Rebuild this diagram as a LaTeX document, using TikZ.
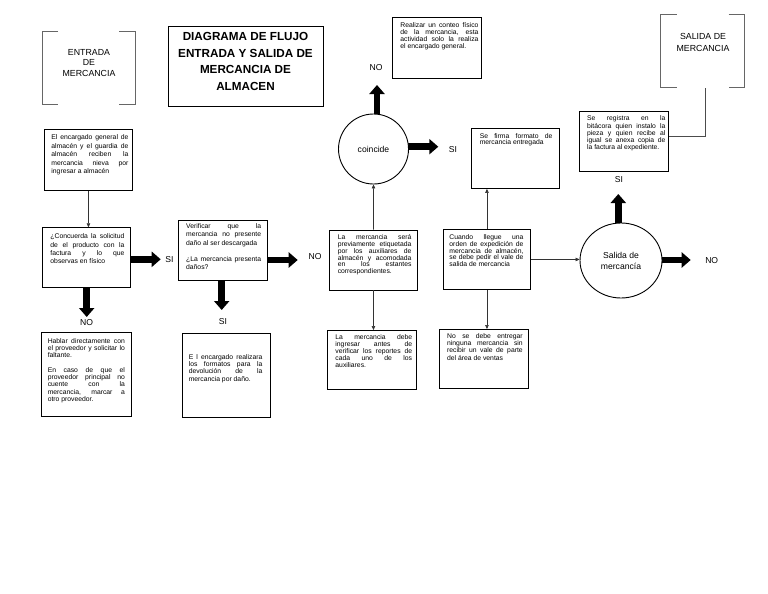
\documentclass[tikz,border=0pt]{standalone}
\usepackage{fontspec}
\setmainfont{Liberation Sans}
\usetikzlibrary{arrows.meta,shapes.geometric,backgrounds}

% #1 width, #2 height, #3 top pad, #4 left pad, #5 right pad, #6 leading, #7 text
\newcommand{\bt}[7]{\parbox[c][#2][t]{#1}{\fontsize{6.8}{#6}\selectfont\setlength{\leftskip}{#4}\setlength{\rightskip}{#5}\setlength{\parindent}{0pt}\tolerance=10000 \hyphenpenalty=10000 \exhyphenpenalty=10000 \vspace*{#3}#7\par}}

\begin{document}
\begin{tikzpicture}[x=1pt,y=-1pt,
  box/.style={draw, line width=0.9pt, inner sep=0pt, anchor=north west},
  fat/.style={line width=6.5pt, -{Triangle[length=9pt,width=15pt]}},
  conn/.style={line width=0.6pt, draw=black!80, -{Triangle[length=4pt,width=3.5pt]}},
  plain/.style={line width=0.9pt, draw=black!70},
  brk/.style={line width=1pt, draw=black!60},
  frame/.style={inner sep=0pt, anchor=north west},
  lab/.style={font=\fontsize{8.6}{10}\selectfont, inner sep=0pt},
  circ/.style={draw, line width=0.9pt, fill=white, inner sep=0pt, font=\fontsize{8.6}{11}\selectfont, align=center}]
\useasboundingbox (0,0) rectangle (768,594);

% --- headers ---
\node[frame, minimum width=93pt, minimum height=72.5pt] (eb) at (42,31.5) {};
\draw[brk] ([xshift=16pt]eb.north west) -- (eb.north west) -- (eb.south west) -- ([xshift=16pt]eb.south west);
\draw[brk] ([xshift=-16pt]eb.north east) -- (eb.north east) -- (eb.south east) -- ([xshift=-16pt]eb.south east);
\node[font=\fontsize{8.8}{10.5}\selectfont, align=center] (et) at (89,62.8) {ENTRADA\\DE\\MERCANCIA};

\node[frame, draw, line width=1.2pt, minimum width=155pt, minimum height=80pt] (tb) at (168,25.7) {};
\node[font=\bfseries\fontsize{11.7}{16.5}\selectfont, align=center] (tt) at (245.5,61.3) {DIAGRAMA DE FLUJO\\ENTRADA Y SALIDA DE\\MERCANCIA DE\\ALMACEN};

\node[frame, minimum width=83.6pt, minimum height=73pt] (sb) at (660.7,14.3) {};
\draw[brk] ([xshift=16pt]sb.north west) -- (sb.north west) -- (sb.south west) -- ([xshift=16pt]sb.south west);
\draw[brk] ([xshift=-16pt]sb.north east) -- (sb.north east) -- (sb.south east) -- ([xshift=-16pt]sb.south east);
\node[font=\fontsize{8.8}{11.6}\selectfont, align=center] (st) at (703,42.5) {SALIDA DE\\MERCANCIA};

% --- boxes ---
\node[box] (b1) at (44,129) {\bt{88pt}{61pt}{5.5pt}{7pt}{4pt}{8.4pt}{El encargado general de\linebreak almacén y el guardia de\linebreak almacén reciben la\linebreak mercancia nieva por\linebreak ingresar a almacén}};

\node[box] (b2) at (42,227.3) {\bt{88pt}{60pt}{6pt}{8pt}{6pt}{8.4pt}{¿Concuerda la solicitud\linebreak de el producto con la\linebreak factura y lo que\linebreak observas en físico}};

\node[box] (b3) at (41,332) {\bt{89.5pt}{84pt}{5.8pt}{6.3pt}{6pt}{7.3pt}{Hablar directamente con\linebreak el proveedor y solicitar lo\linebreak faltante.\par\vspace{7.3pt}En caso de que el\linebreak proveedor principal no\linebreak cuente con la\linebreak mercancia, marcar a\linebreak otro proveedor.}};

\node[box] (b4) at (178,219.5) {\bt{89pt}{60.5pt}{3.8pt}{7.7pt}{6.3pt}{8.2pt}{Verificar que la\linebreak mercancia no presente\linebreak daño al ser descargada\par\vspace{8.2pt}¿La mercancia presenta\linebreak daños?}};

\node[box] (b5) at (182,333) {\bt{88pt}{83.5pt}{21pt}{6.3pt}{8pt}{7.3pt}{E l encargado realizara\linebreak los formatos para la\linebreak devolución de la\linebreak mercancia por daño.}};

\node[box] (b6) at (329,229.5) {\bt{88pt}{60pt}{5pt}{8.3pt}{6pt}{6.7pt}{La mercancia será\linebreak previamente etiquetada\linebreak por los auxiliares de\linebreak almacén y acomodada\linebreak en los estantes\linebreak correspondientes.}};

\node[box] (b7) at (327,330) {\bt{89pt}{59pt}{4pt}{8pt}{4.3pt}{7.1pt}{La mercancia debe\linebreak ingresar antes de\linebreak verificar los reportes de\linebreak cada uno de los\linebreak auxiliares.}};

\node[box] (b8) at (392,17.5) {\bt{89pt}{60.5pt}{5pt}{8pt}{3pt}{6.9pt}{Realizar un conteo físico\linebreak de la mercancia, esta\linebreak actividad solo la realiza\linebreak el encargado general.}};

\node[box] (b9) at (471,128) {\bt{88pt}{60pt}{5pt}{8.3pt}{7pt}{6pt}{Se firma formato de\linebreak mercancia entregada}};

\node[box] (b10) at (443,229) {\bt{87pt}{60pt}{5.3pt}{6pt}{7pt}{6.7pt}{Cuando llegue una\linebreak orden de expedición de\linebreak mercancia de almacén,\linebreak se debe pedir el vale de\linebreak salida de mercancia}};

\node[box] (b11) at (439,329) {\bt{89pt}{59pt}{4pt}{7.7pt}{5.7pt}{7.3pt}{No se debe entregar\linebreak ninguna mercancia sin\linebreak recibir un vale de parte\linebreak del área de ventas}};

\node[box] (b12) at (579,111) {\bt{89pt}{60pt}{4.5pt}{7.7pt}{3pt}{7.2pt}{Se registra en la\linebreak bitácora quien instalo la\linebreak pieza y quien recibe al\linebreak igual se anexa copia de\linebreak la factura al expediente.}};

% --- decision circles ---
\node[circ, circle, minimum size=70pt] (c1) at (373.5,149) {coincide};
\node[circ, ellipse, minimum width=82pt, minimum height=75pt] (c2) at (621,260.5) {Salida de\\mercancía};

% --- fat arrows ---
\coordinate (t1) at (160.7,259.3);
\coordinate (t2) at (86.7,317);
\coordinate (t3) at (297.7,260);
\coordinate (t4) at (221.7,310);
\coordinate (t5) at (377,85);
\coordinate (t6) at (438.3,146.7);
\coordinate (t7) at (618.3,194);
\coordinate (t8) at (690.7,260);
\draw[fat] (b2.east |- t1) -- (t1);
\draw[fat] (b2.south -| t2) -- (t2);
\draw[fat] (b4.east |- t3) -- (t3);
\draw[fat] (b4.south -| t4) -- (t4);
\begin{scope}[on background layer]
  \fill[white] (0,0) rectangle (768,594);
  \draw[fat] (c1.center -| t5) -- (t5);
  \draw[fat] (c1.center |- t6) -- (t6);
  \draw[fat] (c2.center -| t7) -- (t7);
  \draw[fat] (c2.center |- t8) -- (t8);
\end{scope}

% --- labels ---
\node[lab] (l1) at (169.5,259.5) {SI};
\node[lab] (l2) at (86.5,322.7) {NO};
\node[lab] (l3) at (315,257) {NO};
\node[lab] (l4) at (223,321.7) {SI};
\node[lab] (l5) at (376,68) {NO};
\node[lab] (l6) at (453,150) {SI};
\node[lab] (l7) at (619,180) {SI};
\node[lab] (l8) at (711.7,261) {NO};

% --- thin connectors ---
\draw[conn] (b1.south) -- (b1.south |- b2.north);
\draw[conn] (b6.north) -- (c1.south);
\draw[conn] (b6.south) -- (b6.south |- b7.north);
\draw[conn] (b10.north) -- (b10.north |- b9.south);
\draw[conn] (b10.south) -- (b10.south |- b11.north);
\draw[conn] (b10.east) -- (b10.east -| c2.west);
\coordinate (k1) at (705,136.7);
\draw[plain] (k1 -| b12.east) -- (k1) -- (k1 |- sb.south);
\end{tikzpicture}
\end{document}
